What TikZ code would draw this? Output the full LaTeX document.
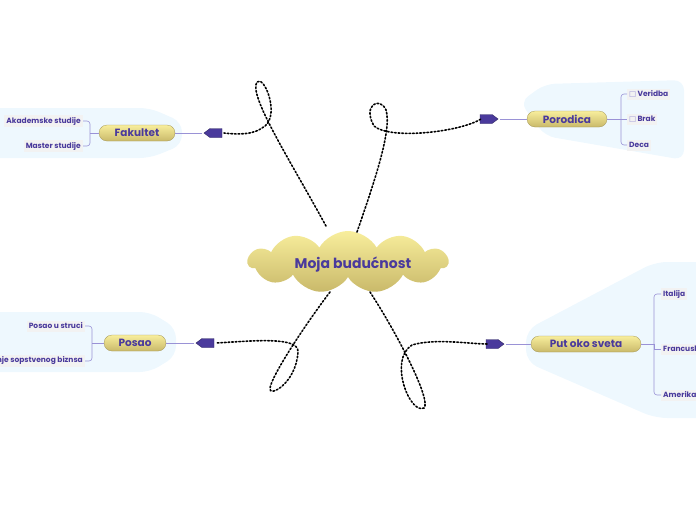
\documentclass[tikz,border=0pt]{standalone}
\usepackage{fontspec}
\setmainfont{Poppins}
\newfontfamily\djv{DejaVu Sans}
\usetikzlibrary{shapes.symbols,shapes.misc}
\definecolor{ink}{HTML}{4A3A9C}
\definecolor{lav}{HTML}{9A92D6}
\definecolor{blob}{HTML}{EEF8FE}
\definecolor{ya}{HTML}{F8EE9C}
\definecolor{yb}{HTML}{C9B96A}
\tikzset{
 pill/.style={rounded rectangle,draw=yb!80!black,line width=0.3pt,top color=ya,bottom color=yb,text=ink,font=\bfseries\fontsize{10.5}{12}\selectfont,minimum height=16pt,inner sep=1pt},
 leaf/.style={fill=gray!10,text=ink,font=\bfseries\fontsize{7.5}{8}\selectfont,inner sep=2pt,minimum height=11pt},
 dots/.style={line width=1.6pt,dotted,line cap=round},
 br/.style={draw=lav,line width=0.6pt,rounded corners=3pt},
 blk/.style={fill=ink,draw=ink!60!black,line width=0.4pt},
}
\newcommand{\cbx}{{\djv\textcolor{lav}{□}}\,}
\begin{document}
\begin{tikzpicture}[x=1pt,y=-1pt]
\useasboundingbox (0,0) rectangle (696,520);
\clip (0,0) rectangle (696,520);
% blobs
\fill[blob,rounded corners=10pt] (-10,108) -- (150,108) -- (182,122) -- (182,145) -- (150,158) -- (-10,158) -- cycle;
\fill[blob,rounded corners=10pt] (520,102) -- (545,84) -- (684,80) -- (684,160) -- (545,136) -- cycle;
\fill[blob,rounded corners=12pt] (526,330) -- (655,262) -- (710,262) -- (710,418) -- (655,418) -- (526,362) -- cycle;
\fill[blob,rounded corners=10pt] (-10,312) -- (150,312) -- (176,328) -- (176,356) -- (150,372) -- (-10,372) -- cycle;
% center
\node[cloud,cloud puffs=11,cloud puff arc=120,aspect=4,minimum width=200pt,minimum height=62pt,top color=ya,bottom color=yb,draw=none,inner sep=0] (c) at (348,262) {};
\node[text=ink,font=\bfseries\fontsize{14}{16}\selectfont] (ct) at (353,265) {Moja budućnost};
% pills
\node[pill,minimum width=78pt] (fak) at (137,133) {Fakultet};
\node[pill,minimum width=82pt] (por) at (567,119) {Porodica};
\node[pill,minimum width=64pt] (pos) at (135,343) {Posao};
\node[pill,minimum width=112pt] (put) at (586,344) {Put oko sveta};
% arrow markers
\coordinate (a1) at (212,133); \coordinate (a2) at (490,119);
\coordinate (a3) at (204,343); \coordinate (a4) at (496,344);
\foreach \p/\s in {a1/-1,a2/1,a3/-1,a4/1}{
 \fill[blk] ([xshift=-10*\s]\p) ++(0,-4.5) -- ++(\s*12,0) -- ++(\s*6,4.5) -- ++(-\s*6,4.5) -- ++(-\s*12,0) -- cycle;}
\draw[lav,line width=0.6pt] ([xshift=-10]a1) -- (fak.east);
\draw[lav,line width=0.6pt] ([xshift=10]a2) -- (por.west);
\draw[lav,line width=0.6pt] ([xshift=-10]a3) -- (pos.east);
\draw[lav,line width=0.6pt] ([xshift=10]a4) -- (put.west);
% dotted connectors
\draw[dots] (326,226) .. controls (290,160) and (248,95) .. (257,82) .. controls (264,74) and (282,118) .. (262,128) .. controls (254,134) and (240,135) .. (224,133);
\draw[dots] (357,232) .. controls (375,180) and (392,130) .. (386,110) .. controls (380,96) and (362,105) .. (374,126) .. controls (390,140) and (460,132) .. (481,119);
\draw[dots] (330,292) .. controls (305,325) and (272,375) .. (270,388) .. controls (268,398) and (296,384) .. (298,352) .. controls (299,336) and (252,341) .. (216,343);
\draw[dots] (370,292) .. controls (395,330) and (432,400) .. (424,408) .. controls (410,415) and (388,360) .. (412,345) .. controls (435,338) and (470,344) .. (487,344);
% leaves
\node[leaf,anchor=east] (f1) at (83,121) {Akademske studije};
\node[leaf,anchor=east] (f2) at (83,146) {Master studije};
\draw[br] (f1.east) -- (90,121) -- (90,146) -- (f2.east);
\draw[lav,line width=0.6pt] (90,133) -- (fak.west);
\node[leaf,anchor=west] (p1) at (627,94) {\cbx Veridba};
\node[leaf,anchor=west] (p2) at (627,119) {\cbx Brak};
\node[leaf,anchor=west] (p3) at (627,145) {Deca};
\draw[br] (p1.west) -- (621,94) -- (621,145) -- (p3.west);
\draw[lav,line width=0.6pt] (por.east) -- (p2.west);
\node[leaf,anchor=east] (s1) at (85,326) {Posao u struci};
\node[leaf,anchor=east] (s2) at (85,361) {Pokretanje sopstvenog biznsa};
\draw[br] (s1.east) -- (92,326) -- (92,361) -- (s2.east);
\draw[lav,line width=0.6pt] (92,343) -- (pos.west);
\node[leaf,anchor=west] (t1) at (661,294) {Italija};
\node[leaf,anchor=west] (t2) at (661,349) {Francuska};
\node[leaf,anchor=west] (t3) at (661,395) {Amerika};
\draw[br] (t1.west) -- (654,294) -- (654,395) -- (t3.west);
\draw[lav,line width=0.6pt] (put.east) -- (654,344) -- (654,349) -- (t2.west);
\end{tikzpicture}
\end{document}
